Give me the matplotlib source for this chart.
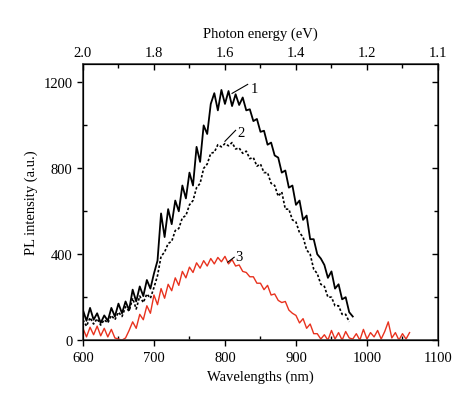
import numpy as np
import matplotlib
matplotlib.use("Agg")
import matplotlib.pyplot as plt

plt.rcParams["font.family"] = ["Liberation Serif", "DejaVu Serif"]

# sample 1 (solid), wavelength 600-980 nm every 5 nm
wl1 = np.arange(600, 981, 5)
pl1 = [140, 90, 150, 95, 125, 80, 115, 90, 150, 110,
       170, 125, 180, 140, 235, 180, 250, 205, 280, 240,
       310, 370, 590, 480, 610, 540, 650, 600, 720, 660,
       780, 720, 900, 830, 1000, 960, 1100, 1150, 1070, 1165,
       1100, 1160, 1090, 1145, 1095, 1130, 1070, 1075, 1020, 1030,
       970, 975, 910, 920, 860, 850, 780, 790, 710, 720,
       630, 650, 560, 580, 470, 470, 400, 380, 350, 290,
       320, 240, 260, 190, 200, 130, 110]

# sample 2 (dotted), 600-975 nm
wl2 = np.arange(600, 976, 5)
pl2 = [95, 65, 105, 75, 100, 70, 95, 80, 115, 95,
       130, 110, 155, 135, 195, 145, 205, 175, 215, 195,
       245, 300, 390, 410, 450, 460, 510, 520, 570, 580,
       630, 650, 710, 730, 800, 820, 870, 875, 910, 900,
       915, 905, 920, 890, 895, 870, 880, 845, 850, 810,
       820, 780, 780, 730, 720, 670, 690, 610, 610, 560,
       550, 500, 480, 420, 400, 330, 310, 260, 250, 200,
       200, 160, 160, 120, 120, 85]

# sample 3 (red), 600-1060 nm
wl3 = np.arange(600, 1061, 5)
pl3 = [55, 15, 60, 25, 65, 20, 55, 15, 50, 10,
       5, 0, 10, 45, 85, 55, 120, 95, 160, 125,
       210, 165, 240, 195, 260, 230, 290, 255, 320, 290,
       340, 315, 360, 335, 370, 345, 380, 355, 385, 365,
       390, 355, 375, 345, 350, 320, 315, 295, 295, 265,
       265, 235, 255, 210, 215, 185, 175, 180, 140, 125,
       115, 80, 100, 55, 75, 30, 30, 5, 25, 0,
       45, 5, 35, 0, 40, 10, 5, 30, 0, 50,
       5, 35, 15, 45, 5, 40, 85, 10, 35, 0,
       30, 5, 35]

bottom_ticks = [600, 700, 800, 900, 1000, 1100]
top_labels = ["2.0", "1.8", "1.6", "1.4", "1.2", "1.1"]

fig = plt.figure(figsize=(4.74, 4.10), dpi=100)
ax = fig.add_axes([0.175, 0.168, 0.749, 0.673])

ax.plot(wl1, pl1, color="black", lw=1.3)
ax.plot(wl2, pl2, color="black", lw=1.2, linestyle=(0, (1.5, 1.2)))
ax.plot(wl3, pl3, color="#e8321e", lw=1.0)

ax.set_xlim(600, 1100)
ax.set_ylim(0, 1285)
ax.set_xticks(bottom_ticks)
ax.set_xticks(np.arange(650, 1100, 100), minor=True)
ax.set_yticks([0, 400, 800, 1200])
ax.set_yticks([200, 600, 1000], minor=True)
ax.tick_params(which="major", direction="out", length=4, width=1, labelsize=10.5)
ax.tick_params(which="minor", direction="in", length=3, width=1)
ax.set_xlabel("Wavelengths (nm)", fontsize=10.5)
ax.set_ylabel("PL intensity (a.u.)", fontsize=10.5)

for s in ax.spines.values():
    s.set_linewidth(1.2)
    s.set_color("#444444")

# photon energy axis on top
top = ax.twiny()
top.set_xlim(ax.get_xlim())
top.set_xticks(bottom_ticks)
top.set_xticklabels(top_labels)
top.set_xticks(np.arange(650, 1100, 100), minor=True)
top.tick_params(which="both", direction="in", labelsize=10.5)
top.tick_params(which="major", length=4, width=1)
top.tick_params(which="minor", length=3, width=1)
top.set_xlabel("Photon energy (eV)", fontsize=10.5, labelpad=7)

# mirrored ticks on the right
right = ax.twinx()
right.set_ylim(ax.get_ylim())
right.set_yticks([0, 400, 800, 1200])
right.set_yticks([200, 600, 1000], minor=True)
right.tick_params(which="both", direction="in", labelright=False, width=1)
right.tick_params(which="major", length=4)
right.tick_params(which="minor", length=3)

# curve labels with leader lines
ax.plot([810, 832], [1149, 1191], color="black", lw=0.8)
ax.text(836, 1172, "1", fontsize=10.5, va="center")
ax.plot([800, 815], [926, 977], color="black", lw=0.8)
ax.text(818, 967, "2", fontsize=10.5, va="center")
ax.plot([804, 813], [363, 386], color="black", lw=0.8)
ax.text(815, 391, "3", fontsize=10.5, va="center")

fig.savefig("out.png", dpi=100)
